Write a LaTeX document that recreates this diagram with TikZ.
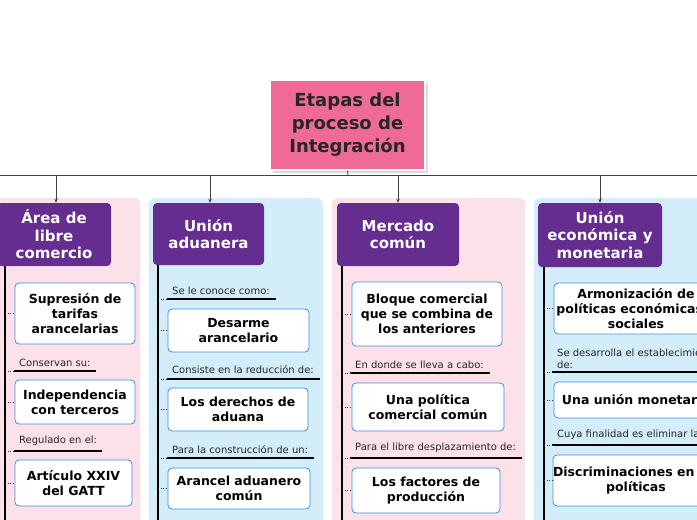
\documentclass[tikz,border=0pt]{standalone}
\usepackage{fontspec}
\setmainfont{DejaVu Sans}
\usetikzlibrary{arrows.meta}
\definecolor{pinkbg}{HTML}{FDE1E8}
\definecolor{bluebg}{HTML}{D4EDFA}
\definecolor{purp}{HTML}{662D91}
\definecolor{titlep}{HTML}{F06A97}
\definecolor{bbord}{HTML}{3A8EE6}
\tikzset{
 col/.style={fill=#1,rounded corners=6pt,draw=none},
 head/.style={fill=purp,rounded corners=4pt,text=white,font=\bfseries\fontsize{15}{17.5}\selectfont,align=center,inner sep=0pt},
 child/.style={fill=white,draw=bbord,line width=0.8pt,rounded corners=4pt,font=\bfseries\fontsize{12.5}{15}\selectfont,align=center,inner sep=0pt},
 lab/.style={font=\fontsize{10}{12.5}\selectfont,anchor=south west,inner sep=0pt,text=black!85},
 uline/.style={line width=2.2pt,black},
 dot/.style={dotted,line width=0.6pt,black!80},
 spine/.style={line width=1.2pt,black},
 arr/.style={-{Stealth[length=4pt,width=3.5pt]},line width=0.7pt,black!75}
}
\begin{document}
\begin{tikzpicture}[x=1pt,y=-1pt]
\useasboundingbox (0,0) rectangle (697,520);
\clip (0,0) rectangle (697,520);
% title
\fill[black!15] (273,83) rectangle (428,173);
\node[fill=titlep,draw=white,line width=1.5pt,minimum width=155pt,minimum height=90pt,inner sep=0pt,font=\bfseries\fontsize{18}{23}\selectfont,align=center,text=black!85] (t) at (347.5,125) {Etapas del\\proceso de\\Integración};
% columns
\fill[col=pinkbg] (-10,198) rectangle (140,530);
\fill[col=bluebg] (149,198) rectangle (323,530);
\fill[col=pinkbg] (332,198) rectangle (525,530);
\fill[col=bluebg] (534,198) rectangle (710,530);
% headers
\node[head,minimum width=114pt,minimum height=63pt] (h1) at (54,234.5) {Área de\\libre\\comercio};
\node[head,minimum width=111pt,minimum height=62pt] (h2) at (208.5,234) {Unión\\aduanera};
\node[head,minimum width=122pt,minimum height=63pt] (h3) at (398,234.5) {Mercado\\común};
\node[head,minimum width=124pt,minimum height=64pt] (h4) at (600,235) {Unión\\económica y\\monetaria};
% connectors from title
\coordinate (tb) at (348,175);
\draw[line width=0.9pt,black!75] (t.south) -- (tb);
\draw[line width=0.9pt,black!75] (0,175) -- (697,175);
\draw[arr] (56,175) -- (h1.north -| 56,0);
\draw[arr] (210,175) -- (h2.north -| 210,0);
\draw[arr] (398,175) -- (h3.north -| 398,0);
\draw[arr] (600,175) -- (h4.north -| 600,0);
% column 1
\draw[spine] (5,266) -- (5,525);
\node[child,minimum width=120pt,minimum height=61pt] (c11) at (75,313.5) {Supresión de\\tarifas\\arancelarias};
\node[lab] (l11) at (19,367) {Conservan su:};
\draw[uline] (14,371) -- (96,371);
\node[child,minimum width=120pt,minimum height=44pt] (c12) at (75,402) {Independencia\\con terceros};
\node[lab] (l12) at (19,446) {Regulado en el:};
\draw[uline] (14,451) -- (102,451);
\node[child,minimum width=117pt,minimum height=46pt] (c13) at (73.5,483) {Artículo XXIV\\del GATT};
\draw[dot] (5,313.5) -- (c11.west);
\draw[dot] (5,371) -- (14,371);
\draw[dot] (5,402) -- (c12.west);
\draw[dot] (5,451) -- (14,451);
\draw[dot] (5,483) -- (c13.west);
% column 2
\draw[spine] (158,265) -- (158,525);
\node[lab] at (172,295) {Se le conoce como:};
\draw[uline] (167,299) -- (276,299);
\node[child,minimum width=141pt,minimum height=43pt] (c21) at (238.5,330.5) {Desarme\\arancelario};
\node[lab] at (172,374) {Consiste en la reducción de:};
\draw[uline] (167,379) -- (320,379);
\node[child,minimum width=140pt,minimum height=43pt] (c22) at (238,409.5) {Los derechos de\\aduana};
\node[lab] at (172,454) {Para la construcción de un:};
\draw[uline] (167,458) -- (314,458);
\node[child,minimum width=142pt,minimum height=41pt] (c23) at (239,488.5) {Arancel aduanero\\común};
\draw[dot] (158,299) -- (167,299);
\draw[dot] (158,330.5) -- (c21.west);
\draw[dot] (158,379) -- (167,379);
\draw[dot] (158,409.5) -- (c22.west);
\draw[dot] (158,458) -- (167,458);
\draw[dot] (158,488.5) -- (c23.west);
% column 3
\draw[spine] (342,266) -- (342,525);
\node[child,minimum width=150pt,minimum height=64pt] (c31) at (427,314) {Bloque comercial\\que se combina de\\los anteriores};
\node[lab] at (355,369) {En donde se lleva a cabo:};
\draw[uline] (350,373) -- (490,373);
\node[child,minimum width=152pt,minimum height=48pt] (c32) at (428,407) {Una política\\comercial común};
\node[lab] at (355,453) {Para el libre desplazamiento de:};
\draw[uline] (350,458) -- (522,458);
\node[child,minimum width=148pt,minimum height=45pt] (c33) at (426,490.5) {Los factores de\\producción};
\draw[dot] (342,314) -- (c31.west);
\draw[dot] (342,373) -- (350,373);
\draw[dot] (342,407) -- (c32.west);
\draw[dot] (342,458) -- (350,458);
\draw[dot] (342,490.5) -- (c33.west);
% column 4
\draw[spine] (544,267) -- (544,525);
\node[child,minimum width=164pt,minimum height=51pt] (c41) at (636,308.5) {Armonización de\\políticas económicas y\\sociales};
\node[lab,align=left] at (557,369) {Se desarrolla el establecimiento\\de:};
\draw[uline] (552,372) -- (710,372);
\node[child,minimum width=164pt,minimum height=36pt] (c42) at (636,400) {Una unión monetaria};
\node[lab] at (557,440) {Cuya finalidad es eliminar las};
\draw[uline] (552,445) -- (710,445);
\node[child,minimum width=164pt,minimum height=51pt] (c43) at (636,480.5) {Discriminaciones en las\\políticas};
\draw[dot] (544,308.5) -- (c41.west);
\draw[dot] (544,372) -- (552,372);
\draw[dot] (544,400) -- (c42.west);
\draw[dot] (544,445) -- (552,445);
\draw[dot] (544,480.5) -- (c43.west);
\end{tikzpicture}
\end{document}
